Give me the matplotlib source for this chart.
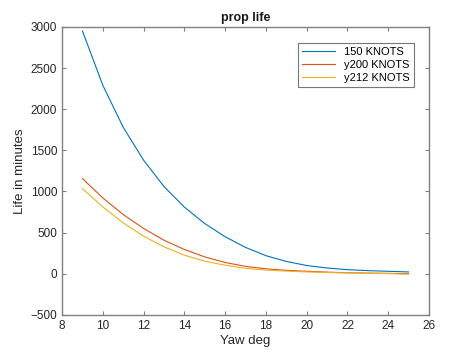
import matplotlib
matplotlib.use('Agg')
import matplotlib.pyplot as plt

plt.rcParams['font.family'] = ['Liberation Sans', 'DejaVu Sans']

yaw = [9, 10, 11, 12, 13, 14, 15, 16, 17, 18, 19, 20, 21, 22, 23, 24, 25]
life_150 = [2950, 2290, 1780, 1380, 1060, 810, 610, 450, 320, 220, 150, 100, 70, 50, 38, 30, 22]
life_200 = [1157, 921, 720, 550, 408, 295, 205, 137, 90, 60, 42, 30, 20, 12, 8, 5, 0]
life_212 = [1035, 812, 618, 456, 327, 226, 153, 104, 66, 45, 32, 22, 15, 10, 5, 2, -5]
labels = ['150 KNOTS', 'y200 KNOTS', 'y212 KNOTS']

fig = plt.figure(figsize=(4.74, 3.55), dpi=100)
ax = fig.add_axes([0.131, 0.113, 0.774, 0.811])

ax.plot(yaw, life_150, color='#0072BD', lw=0.8, label=labels[0])
ax.plot(yaw, life_200, color='#D95319', lw=0.8, label=labels[1])
ax.plot(yaw, life_212, color='#EDB120', lw=0.8, label=labels[2])

ax.set_xlim(8, 26)
ax.set_ylim(-500, 3000)
ax.set_xticks(range(8, 27, 2))
ax.set_yticks(range(-500, 3001, 500))

for s in ax.spines.values():
    s.set_color('#808080')
    s.set_linewidth(1.0)
ax.tick_params(direction='in', length=3, width=0.8, color='#808080',
               top=True, right=True, labelsize=8.5, labelcolor='#262626')

ax.set_title('prop life', fontsize=9, fontweight='bold', color='#1a1a1a', pad=4)
ax.set_xlabel('Yaw deg', fontsize=9.5, color='#262626', labelpad=2)
ax.set_ylabel('Life in minutes', fontsize=9.5, color='#262626', labelpad=3)

leg = ax.legend(loc='upper right', fontsize=8, frameon=True, fancybox=False,
                borderpad=0.4, labelspacing=0.25, handlelength=3.0,
                bbox_to_anchor=(0.975, 0.965))
leg.get_frame().set_edgecolor('#555555')
leg.get_frame().set_linewidth(0.8)

plt.savefig('out.png', dpi=100)
